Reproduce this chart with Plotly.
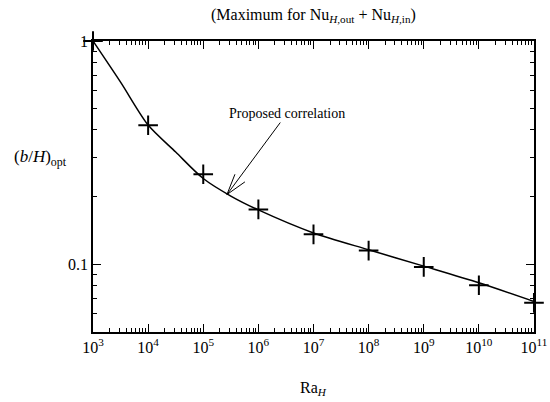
import plotly.graph_objects as go

# Data
ra_points = [1e3, 1e4, 1e5, 1e6, 1e7, 1e8, 1e9, 1e10, 1e11]
bh_points = [1.0, 0.419, 0.253, 0.176, 0.136, 0.115, 0.0972, 0.0805, 0.0671]

ra_corr = [1e3, 10**3.5, 1e4, 10**4.5, 1e5, 10**5.5, 1e6, 1e7, 1e8, 1e9, 1e10, 1e11]
bh_corr = [1.0, 0.654, 0.42, 0.318, 0.242, 0.202, 0.175, 0.138, 0.116, 0.098, 0.0825, 0.068]

x_tickvals = [10**k for k in range(3, 12)]
x_ticktext = [f"10<sup>{k}</sup>" for k in range(3, 12)]
y_tickvals = [0.1, 1]
y_ticktext = ["0.1", "1"]

x_minor = [m * 10**k for k in range(3, 11) for m in range(2, 10)]
y_minor = [m * 10**k for k in (-2, -1) for m in range(2, 10) if m * 10**k >= 0.05]

# arrow tip of the "Proposed correlation" pointer (log10 coordinates)
TIP_X, TIP_Y = 5.43, -0.688

FONT = "Liberation Serif"
W, H = 550, 402
ML, MR, MT, MB = 92.5, 16, 40.5, 70
XR = [2.9999, 11.0001]
YR = [-1.304, 0.0001]
PW = W - ML - MR
PH = H - MT - MB

fig = go.Figure()
fig.add_trace(go.Scatter(
    x=ra_corr, y=bh_corr, mode="lines",
    line=dict(color="black", width=1.5, shape="spline", smoothing=0.8),
    cliponaxis=False, showlegend=False, hoverinfo="skip"))
fig.add_trace(go.Scatter(
    x=ra_points, y=bh_points, mode="markers",
    marker=dict(symbol="cross-thin", size=14, line=dict(color="black", width=2), color="black"),
    cliponaxis=False, showlegend=False))

axis_common = dict(
    type="log", showgrid=False, zeroline=False, automargin=False,
    showline=True, linecolor="black", linewidth=1.5, mirror="ticks",
    ticks="inside", ticklen=8, tickwidth=1, tickcolor="black",
    tickfont=dict(family=FONT, size=16, color="black"),
)

fig.update_xaxes(
    **axis_common, range=XR, tickmode="array",
    tickvals=x_tickvals, ticktext=x_ticktext,
    minor=dict(tickmode="array", tickvals=x_minor, ticks="inside", ticklen=4, tickcolor="black"),
)
fig.update_yaxes(
    **axis_common, range=YR, tickmode="array",
    tickvals=y_tickvals, ticktext=y_ticktext,
    minor=dict(tickmode="array", tickvals=y_minor, ticks="inside", ticklen=4, tickcolor="black"),
)

fig.add_annotation(
    x=TIP_X, y=TIP_Y, xref="x", yref="y",
    text="Proposed correlation", showarrow=True,
    ax=60, ay=-81, arrowhead=0, arrowwidth=1, arrowcolor="black",
    font=dict(family=FONT, size=14, color="black"))

# open V arrowhead (two barbs, pixel offsets from the tip, drawn in paper coords)
tip_px = (TIP_X - XR[0]) / (XR[1] - XR[0])
tip_py = (TIP_Y - YR[0]) / (YR[1] - YR[0])
for dx, dy in [(8, 20.3), (18, 12.7)]:
    fig.add_shape(
        type="line", xref="paper", yref="paper",
        x0=tip_px, y0=tip_py,
        x1=tip_px + dx / PW, y1=tip_py + dy / PH,
        line=dict(color="black", width=1))

fig.add_annotation(
    x=0.5, y=1, xref="paper", yref="paper", yshift=26,
    text="(Maximum for Nu<sub><i>H</i>,out</sub> + Nu<sub><i>H</i>,in</sub>)",
    showarrow=False, xanchor="center", yanchor="middle",
    font=dict(family=FONT, size=16, color="black"))

fig.add_annotation(
    x=0, y=0.597, xref="paper", yref="paper", xshift=-24,
    text="(<i>b</i>/<i>H</i>)<sub>opt</sub>",
    showarrow=False, xanchor="right", yanchor="middle",
    font=dict(family=FONT, size=17, color="black"))

fig.add_annotation(
    x=0.5, y=0, xref="paper", yref="paper", yshift=-56,
    text="Ra<sub><i>H</i></sub>",
    showarrow=False, xanchor="center", yanchor="middle",
    font=dict(family=FONT, size=16, color="black"))

fig.update_layout(
    width=W, height=H,
    margin=dict(l=ML, r=MR, t=MT, b=MB),
    plot_bgcolor="white", paper_bgcolor="white",
)

fig.write_html("out.html")
